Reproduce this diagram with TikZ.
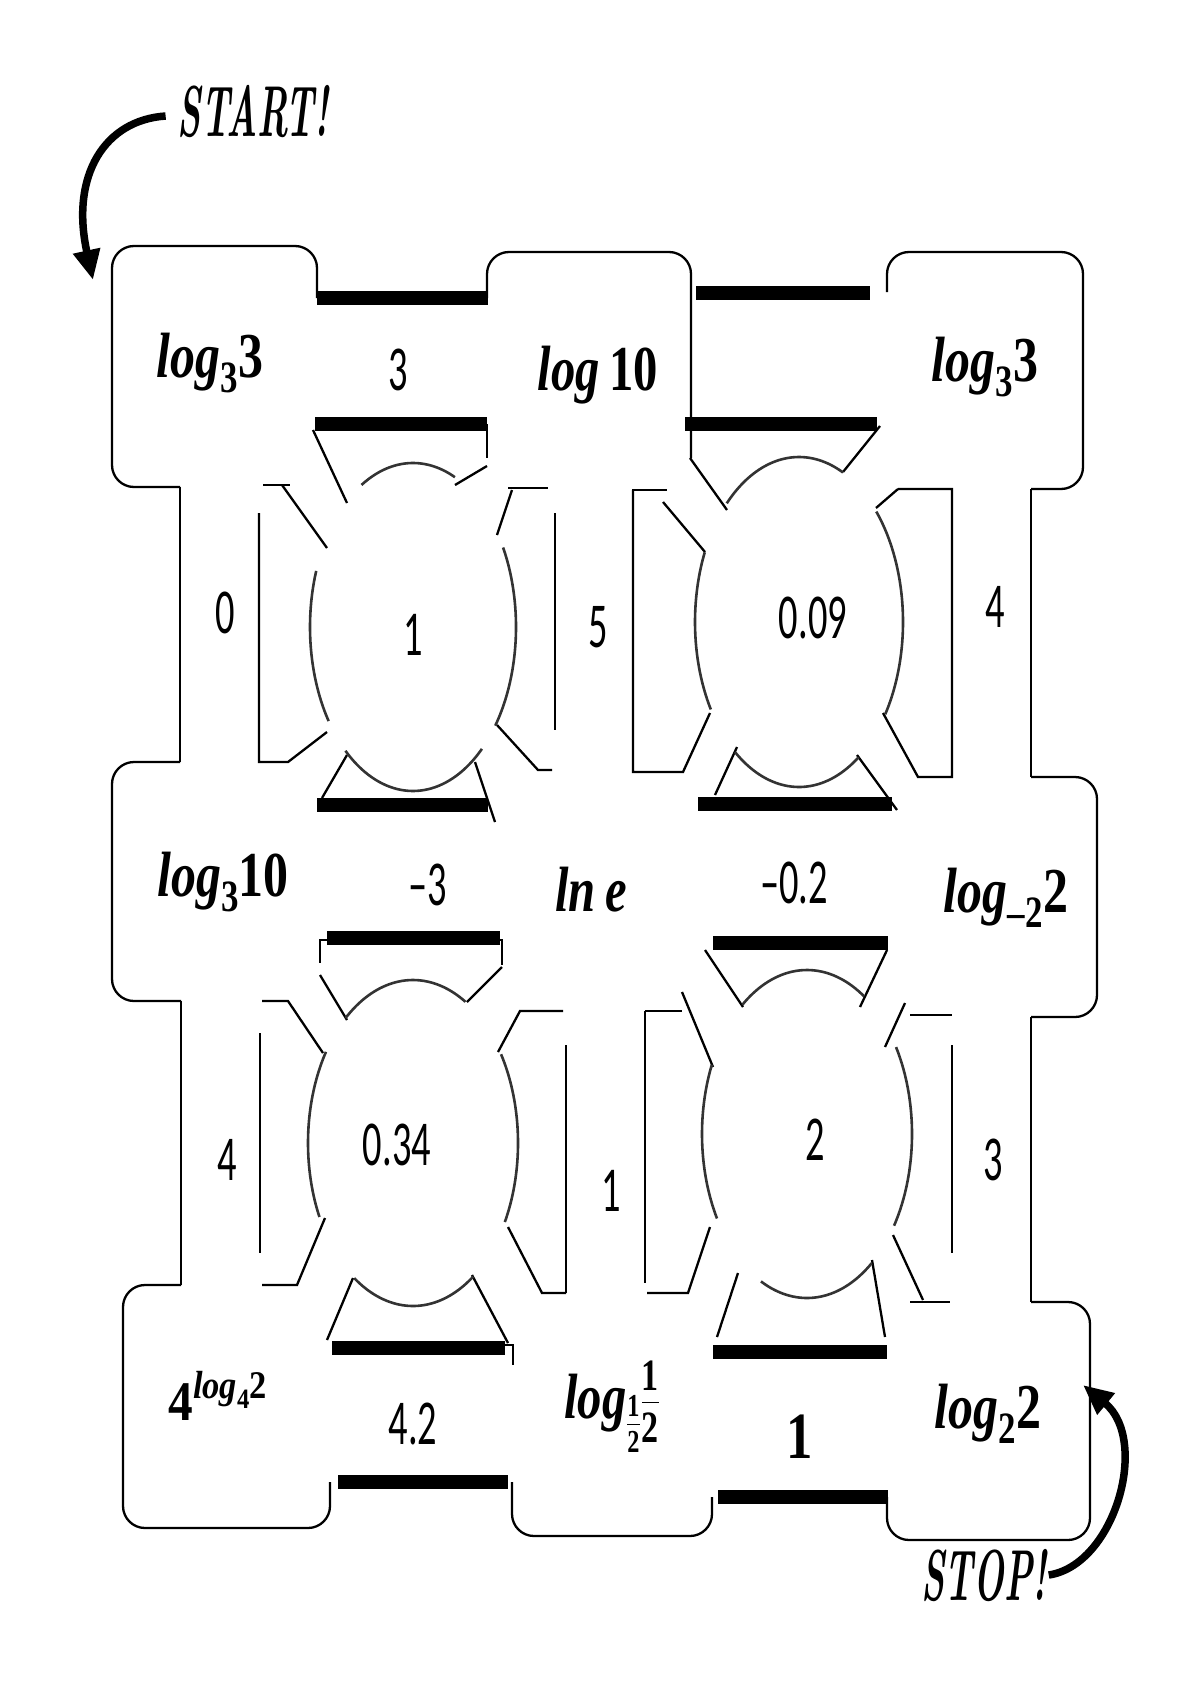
\RequirePackage{fix-cm}
\documentclass[tikz,border=0pt]{standalone}
\usepackage[no-math]{fontspec}
\usepackage{amsmath}
\usepackage{graphicx}
\newfontfamily\carl{Carlito}
\newfontfamily\lsr{Liberation Serif}
\usetikzlibrary{arrows.meta}
\newcommand\sqz[2]{\scalebox{#1}[1]{#2}}
\newcommand\tl[1]{\text{\lsr\bfseries\itshape #1}}
\newcommand\tn[1]{\text{\lsr\bfseries #1}}
\newcommand\bmath[2]{{\boldmath\scalebox{#1}[1]{$#2$}}}
\newcommand\earc[6]{\draw[arcline] plot[domain=#5:#6,samples=40,smooth] ({#1+#3*cos(\x)},{#2-#4*sin(\x)});}
\begin{document}
\begin{tikzpicture}[x=1pt,y=-1pt,
  wall/.style={line width=2.3pt, black},
  bar/.style={line width=13.5pt, black},
  arcline/.style={line width=2.6pt, black!80},
  mlab/.style={font=\fontsize{64}{70}\selectfont, inner sep=0pt, anchor=base},
  smlab/.style={font=\fontsize{56}{60}\selectfont, inner sep=0pt, anchor=base},
  nlab/.style={font=\fontsize{64}{70}\selectfont\carl, inner sep=0pt, anchor=base},
  bigone/.style={font=\fontsize{66}{70}\selectfont\lsr\bfseries, inner sep=0pt, anchor=base},
  shout/.style={font=\fontsize{72}{80}\selectfont\bfseries\itshape, inner sep=0pt, anchor=base},
  fat/.style={line width=7.5pt, -{Triangle[length=30pt,width=26pt]}},
]
\useasboundingbox (0,0) rectangle (1200,1696);

% ---------- thick corridor bars ----------
\draw[bar] (317,298) -- (488,298);
\draw[bar] (315,424) -- (487,424);
\draw[bar] (696,293) -- (870,293);
\draw[bar] (685,424) -- (877,424);
\draw[bar] (317,805) -- (488,805);
\draw[bar] (327,938) -- (500,938);
\draw[bar] (698,804) -- (892,804);
\draw[bar] (713,943) -- (888,943);
\draw[bar] (332,1348) -- (505,1348);
\draw[bar] (338,1482) -- (508,1482);
\draw[bar] (713,1352) -- (887,1352);
\draw[bar] (718,1497) -- (888,1497);

% ---------- outer rooms ----------
\draw[wall, rounded corners=22pt] (317,298) -- (317,246) -- (112,246) -- (112,487) -- (180,487);
\draw[wall] (180,487) -- (180,762);
\draw[wall, rounded corners=22pt] (180,762) -- (112,762) -- (112,1001) -- (181,1001);
\draw[wall] (181,1001) -- (181,1285);
\draw[wall, rounded corners=22pt] (181,1285) -- (123,1285) -- (123,1528) -- (330,1528) -- (330,1482);

\draw[wall, rounded corners=22pt] (487,298) -- (487,252) -- (691,252) -- (691,458);
\draw[wall] (487,424) -- (487,458);

\draw[wall, rounded corners=22pt] (887,292) -- (887,252) -- (1083,252) -- (1083,489) -- (1031,489);
\draw[wall] (1031,489) -- (1031,777);
\draw[wall, rounded corners=22pt] (1031,777) -- (1097,777) -- (1097,1017) -- (1031,1017);
\draw[wall] (1031,1017) -- (1031,1302);
\draw[wall, rounded corners=22pt] (1031,1302) -- (1090,1302) -- (1090,1540) -- (887,1540) -- (887,1497);

\draw[wall, rounded corners=22pt] (512,1482) -- (512,1536) -- (712,1536) -- (712,1497);
\draw[wall] (505,1345) -- (513,1345) -- (513,1365);

% ---------- cell 1 ----------
\draw[wall] (313,430) -- (347,503);
\draw[wall] (487,466) -- (455,485);
\draw[wall] (263,485) -- (290,485);
\draw[wall] (282,485) -- (327,548);
\draw[wall] (259,513) -- (259,762) -- (288,762) -- (327,732);
\draw[wall] (322,798) -- (347,755);
\draw[wall] (475,762) -- (495,822);
\draw[wall] (508,488) -- (548,488);
\draw[wall] (512,490) -- (497,535);
\draw[wall] (555,513) -- (555,730);
\draw[wall] (497,725) -- (538,770) -- (552,770);
\earc{413}{627}{103}{164}{66}{120}
\earc{413}{627}{103}{164}{160}{215}
\earc{413}{627}{103}{164}{229}{312}
\earc{413}{627}{103}{164}{-37}{29}

% ---------- cell 2 ----------
\draw[wall] (690,458) -- (727,510);
\draw[wall] (880,426) -- (843,472);
\draw[wall] (632,490) -- (667,490);
\draw[wall] (633,490) -- (633,772) -- (683,772) -- (710,713);
\draw[wall] (663,502) -- (705,552);
\draw[wall] (737,747) -- (715,795);
\draw[wall] (857,755) -- (897,810);
\draw[wall] (898,489) -- (876,508);
\draw[wall] (898,489) -- (952,489) -- (952,777) -- (918,777) -- (883,713);
\earc{799}{622}{104}{165}{65}{134}
\earc{799}{622}{104}{165}{155}{212}
\earc{799}{622}{104}{165}{232}{305}
\earc{799}{622}{104}{165}{-34}{42}

% ---------- cell 3 ----------
\draw[wall] (327,940) -- (320,940) -- (320,963);
\draw[wall] (500,940) -- (502,940) -- (502,965);
\draw[wall] (320,975) -- (347,1020);
\draw[wall] (502,967) -- (467,1002);
\draw[wall] (262,1001) -- (288,1001) -- (323,1053);
\draw[wall] (260,1033) -- (260,1253);
\draw[wall] (262,1285) -- (297,1285) -- (325,1218);
\draw[wall] (327,1340) -- (353,1278);
\draw[wall] (472,1275) -- (508,1343);
\draw[wall] (498,1052) -- (520,1011) -- (563,1011);
\draw[wall] (566,1045) -- (566,1293);
\draw[wall] (508,1227) -- (542,1293) -- (566,1293);
\earc{413}{1143}{105}{163}{60}{130}
\earc{413}{1143}{105}{163}{146}{207}
\earc{413}{1143}{105}{163}{236}{305}
\earc{413}{1143}{105}{163}{-29}{33}

% ---------- cell 4 ----------
\draw[wall] (705,950) -- (743,1007);
\draw[wall] (887,950) -- (860,1007);
\draw[wall] (645,1011) -- (682,1011);
\draw[wall] (682,992) -- (713,1067);
\draw[wall] (645,1011) -- (645,1283);
\draw[wall] (647,1293) -- (688,1293) -- (710,1227);
\draw[wall] (717,1337) -- (738,1273);
\draw[wall] (872,1260) -- (885,1337);
\draw[wall] (905,1003) -- (885,1047);
\draw[wall] (910,1015) -- (952,1015);
\draw[wall] (952,1045) -- (952,1253);
\draw[wall] (893,1235) -- (923,1300);
\draw[wall] (910,1302) -- (950,1302);
\earc{807}{1134}{105}{164}{57}{128}
\earc{807}{1134}{105}{164}{155}{211}
\earc{807}{1134}{105}{164}{244}{308}
\earc{807}{1134}{105}{164}{-34}{32}

% ---------- labels ----------
\node[mlab] (rA) at (210,377) {\bmath{0.78}{\tl{log}_{\tn{3}}\tn{3}}};
\node[mlab] (rB) at (598,390) {\bmath{0.76}{\tl{log}\,\tn{10}}};
\node[mlab] (rC) at (985,381) {\bmath{0.78}{\tl{log}_{\tn{3}}\tn{3}}};
\node[mlab] (rD) at (223,896) {\bmath{0.78}{\tl{log}_{\tn{3}}\tn{10}}};
\node[mlab] (rE) at (591,911) {\bmath{0.76}{\tl{ln}\,\tl{e}}};
\node[mlab] (rF) at (1006,912) {\bmath{0.78}{\tl{log}_{\tn{\textendash2}}\tn{2}}};
\node[smlab] (rG) at (218,1420) {\bmath{0.88}{\tn{4}^{\tl{log}_{\tn{4}}\tn{2}}}};
\node[mlab] (rH) at (612,1418) {\bmath{0.76}{\tl{log}_{\frac{\tn{1}}{\tn{2}}}\frac{\tn{1}}{\tn{2}}}};
\node[mlab] (rI) at (988,1428) {\bmath{0.78}{\tl{log}_{\tn{2}}\tn{2}}};

\node[nlab] (nAB) at (398,390) {\sqz{0.6}{3}};
\node[nlab] (nAD) at (225,633) {\sqz{0.6}{0}};
\node[nlab] (c1) at (413,655) {\sqz{0.6}{1}};
\node[nlab] (nBE) at (598,647) {\sqz{0.6}{5}};
\node[nlab] (c2) at (813,638) {\sqz{0.6}{0.09}};
\node[nlab] (nCF) at (995,627) {\sqz{0.6}{4}};
\node[nlab] (nDE) at (428,905) {\sqz{0.6}{\textendash3}};
\node[nlab] (nEF) at (794,903) {\sqz{0.6}{\textendash0.2}};
\node[nlab] (nDG) at (227,1180) {\sqz{0.6}{4}};
\node[nlab] (c3) at (397,1165) {\sqz{0.6}{0.34}};
\node[nlab] (nEH) at (611,1211) {\sqz{0.6}{1}};
\node[nlab] (c4) at (815,1160) {\sqz{0.6}{2}};
\node[nlab] (nFI) at (993,1180) {\sqz{0.6}{3}};
\node[nlab] (nGH) at (413,1444) {\sqz{0.6}{4.2}};
\node[bigone] (nHI) at (800,1458) {\sqz{0.8}{1}};

% ---------- start / stop ----------
\node[shout] (start) at (253,137) {\sqz{0.5}{START!}};
\node[shout] (stop) at (984,1600) {\sqz{0.5}{STOP!}};
\coordinate (sTip) at (93,280);
\coordinate (eTip) at (1083,1385);
\draw[fat] ([xshift=-12pt,yshift=-4pt]start.west) .. controls (105,120) and (70,175) .. (sTip);
\draw[fat] ([xshift=2pt]stop.east) .. controls (1115,1565) and (1150,1440) .. (eTip);
\end{tikzpicture}
\end{document}
